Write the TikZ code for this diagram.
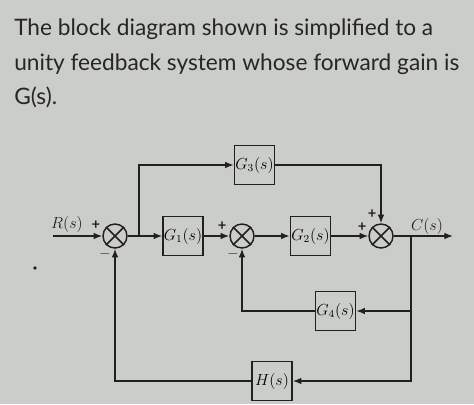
\documentclass[tikz,border=0pt]{standalone}
\usepackage{fontspec}
\setmainfont{Lato}
\usetikzlibrary{arrows.meta}
\definecolor{bg}{RGB}{203,205,200}
\definecolor{ink}{RGB}{32,32,32}
\begin{document}
\begin{tikzpicture}[x=0.75pt,y=-0.75pt,
  blk/.style={draw=ink, line width=1.1pt, minimum width=30pt, minimum height=29pt, inner sep=0pt, font=\fontsize{11.5}{13}\selectfont},
  sumj/.style={draw=ink, circle, line width=1.1pt, minimum size=18pt, inner sep=0pt},
  wire/.style={draw=ink, line width=1.1pt},
  arr/.style={wire, -{Latex[length=6.5pt,width=5pt]}},
  lbl/.style={font=\fontsize{11.5}{13}\selectfont, inner sep=0pt, text=ink},
  sgn/.style={font=\fontsize{11}{12}\selectfont\bfseries, inner sep=0pt, text=ink},
  txt/.style={anchor=base west, inner sep=0pt, font=\fontsize{17}{20}\selectfont, text=black!85}]
\fill[bg] (0,0) rectangle (474,404);
\useasboundingbox (0,0) rectangle (474,404);
% caption
\node[txt] (t1) at (14,35) {The block diagram shown is simplified to a};
\node[txt] (t2) at (14,70) {unity feedback system whose forward gain is};
\node[txt] (t3) at (14,104) {G(s).};
% bullet
\fill[ink] (35,268) circle (1.8);
% blocks
\node[sumj] (s1) at (115,236) {};
\node[sumj] (s2) at (242,236) {};
\node[sumj] (s3) at (381,236) {};
\foreach \s in {s1,s2,s3}{
  \draw[wire] (\s.north west) -- (\s.south east);
  \draw[wire] (\s.north east) -- (\s.south west);
}
\node[blk] (g1) at (183,236) {$G_1(s)$};
\node[blk] (g2) at (310.5,236) {$G_2(s)$};
\node[blk] (g3) at (254.5,165) {$G_3(s)$};
\node[blk] (g4) at (335.5,311) {$G_4(s)$};
\node[blk] (h) at (272,381) {$H(s)$};
% coordinates
\coordinate (in) at (53,236);
\coordinate (b1) at (139,236);
\coordinate (b2) at (411,236);
\coordinate (out) at (453,236);
% connectors
\draw[arr] (in) -- (s1);
\draw[arr] (s1) -- (g1);
\draw[arr] (b1) |- (g3);
\draw[arr] (g1) -- (s2);
\draw[arr] (s2) -- (g2);
\draw[arr] (g2) -- (s3);
\draw[arr] (g3) -| (s3);
\draw[arr] (s3) -- (out);
\draw[arr] (b2) |- (g4);
\draw[arr] (b2) |- (h);
\draw[arr] (g4) -| (s2);
\draw[arr] (h) -| (s1);
% labels
\node[lbl] (lr) at (67,224) {$R(s)$};
\node[lbl] (lc) at (427,226) {$C(s)$};
\node[sgn] (p1) at (96,225) {+};
\node[sgn] (m1) at (105,254) {$-$};
\node[sgn] (p2) at (222,226) {+};
\node[sgn] (m2) at (233,254) {$-$};
\node[sgn] (p3) at (372,214) {+};
\node[sgn] (p4) at (362,227) {+};
\end{tikzpicture}
\end{document}
